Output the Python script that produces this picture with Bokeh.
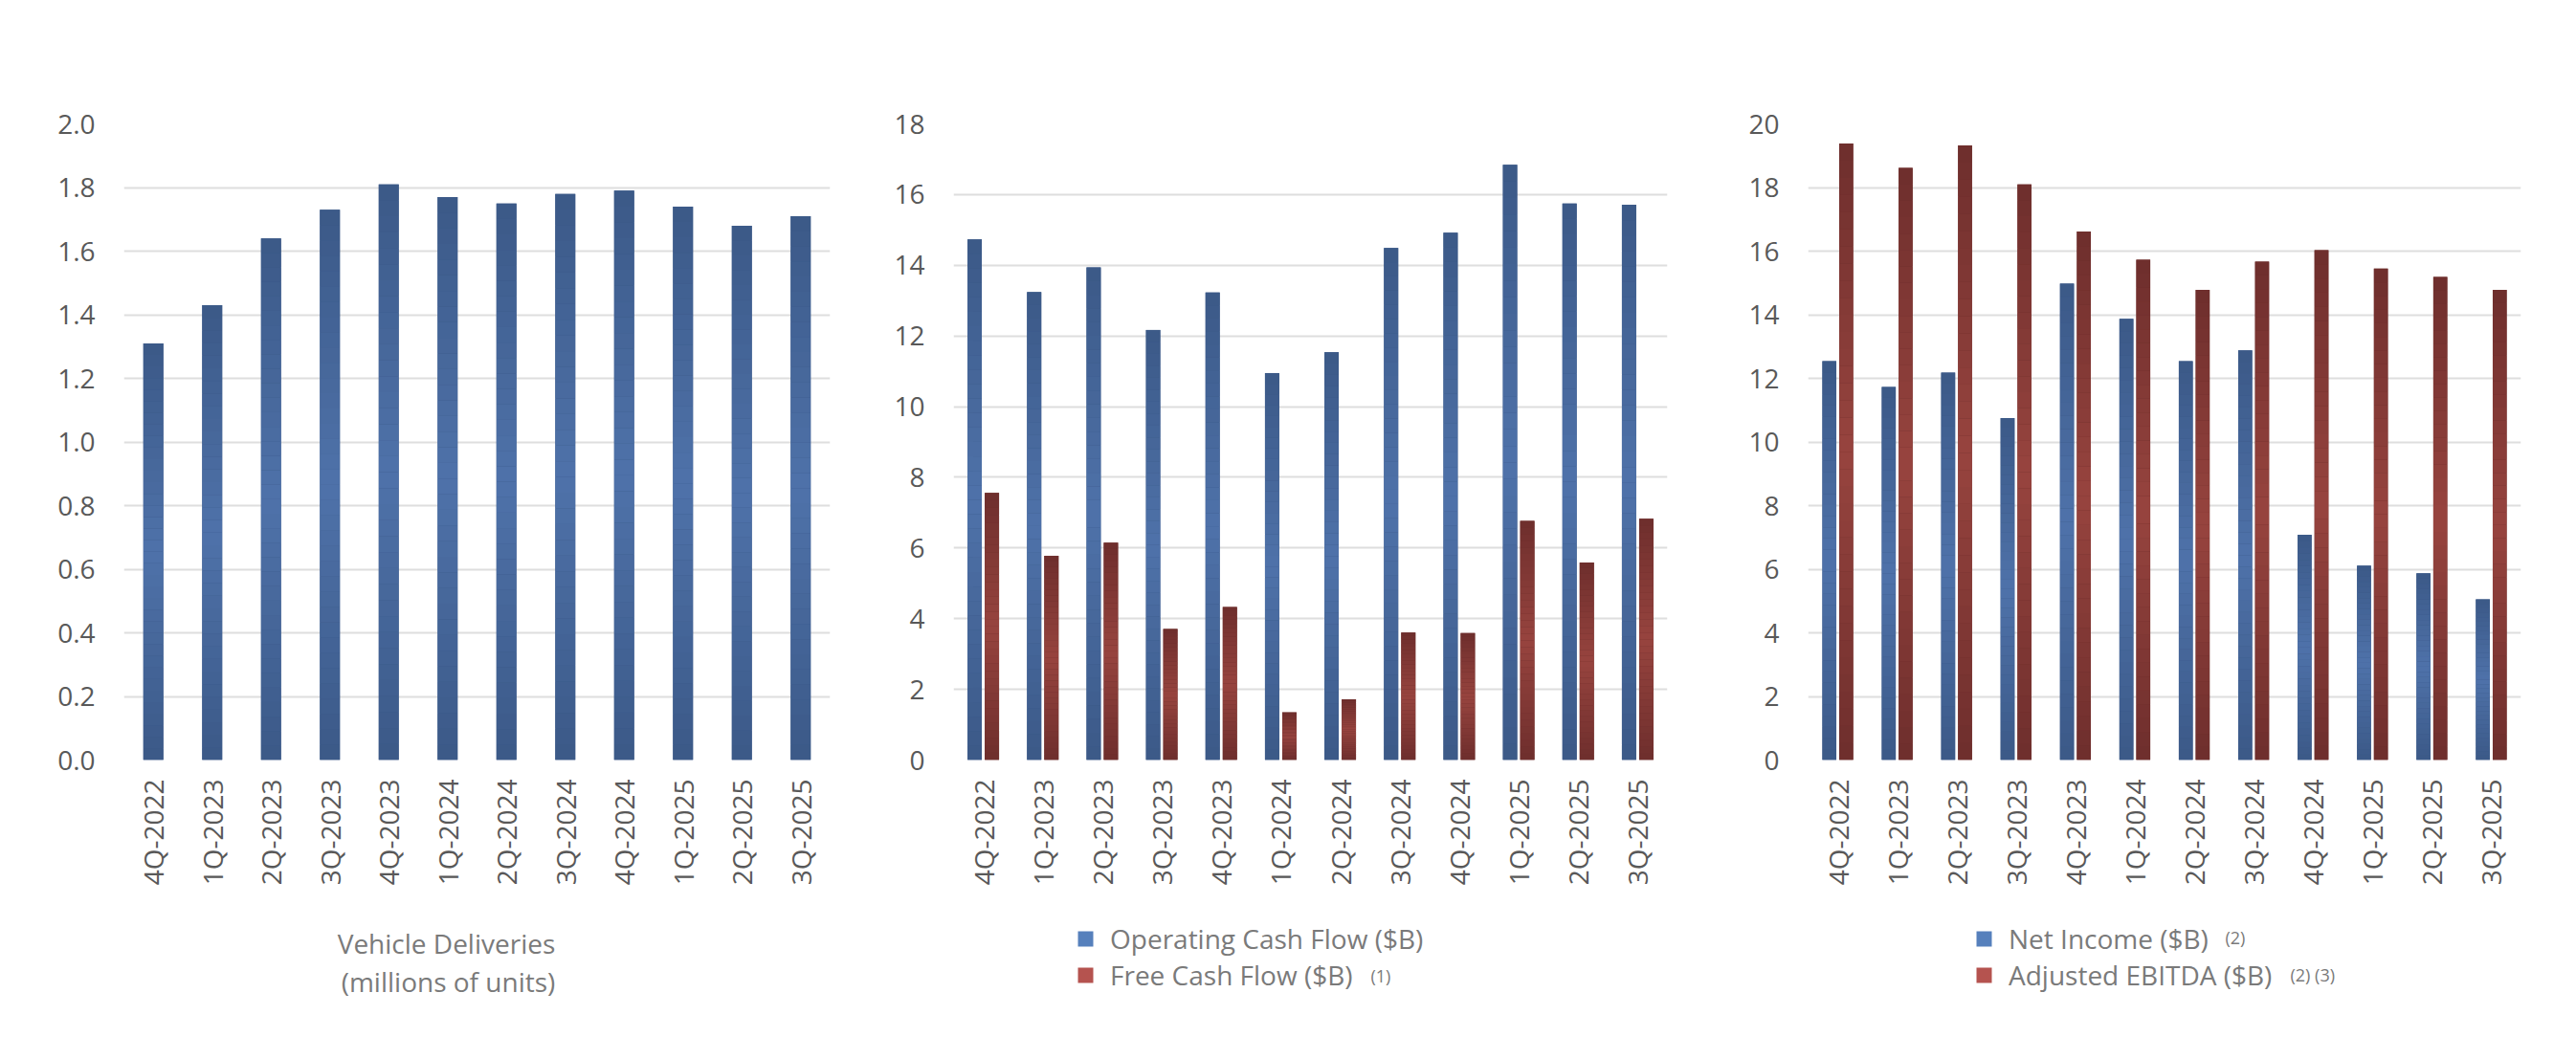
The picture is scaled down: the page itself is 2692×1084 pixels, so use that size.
import math
from bokeh.plotting import figure
from bokeh.models import (Range1d, FactorRange, FixedTicker, NumeralTickFormatter, Label,
                          Legend, LegendItem, ColumnDataSource)
from bokeh.transform import dodge
from bokeh.layouts import row, column
from bokeh.embed import file_html
from bokeh.resources import INLINE

# ---------------- data ----------------
quarters = ["4Q-2022", "1Q-2023", "2Q-2023", "3Q-2023", "4Q-2023", "1Q-2024",
            "2Q-2024", "3Q-2024", "4Q-2024", "1Q-2025", "2Q-2025", "3Q-2025"]

deliveries = [1.31, 1.43, 1.64, 1.73, 1.81, 1.77, 1.75, 1.78, 1.79, 1.74, 1.68, 1.71]

operating_cf = [14.73, 13.24, 13.94, 12.17, 13.23, 10.95, 11.54, 14.49, 14.92, 16.84, 15.75, 15.71]
free_cf = [7.56, 5.78, 6.15, 3.71, 4.33, 1.35, 1.72, 3.61, 3.59, 6.77, 5.59, 6.83]

net_income = [12.54, 11.73, 12.18, 10.75, 14.98, 13.87, 12.54, 12.88, 7.08, 6.11, 5.87, 5.05]
adj_ebitda = [19.38, 18.62, 19.32, 18.10, 16.62, 15.73, 14.78, 15.67, 16.03, 15.45, 15.19, 14.78]

ticks_deliveries = [0.0, 0.2, 0.4, 0.6, 0.8, 1.0, 1.2, 1.4, 1.6, 1.8, 2.0]
ticks_cash = [0, 2, 4, 6, 8, 10, 12, 14, 16, 18]
ticks_income = [0, 2, 4, 6, 8, 10, 12, 14, 16, 18, 20]

# ---------------- style ----------------
FONT = "Open Sans"
TICK_COLOR = "#595959"
TEXT_COLOR = "#7a7a7a"
GRID_COLOR = "#dedede"
BLUE_EDGE, BLUE_MID = "#3b5987", "#4f72aa"
RED_EDGE, RED_MID = "#6e2e2c", "#97443f"
BLUE_KEY, RED_KEY = "#5680bc", "#b5534f"
TOP_H, BOT_H = 940, 144


def _hex(c):
    c = c.lstrip("#")
    return [int(c[i:i + 2], 16) for i in (0, 2, 4)]


def blend(c1, c2, t):
    a, b = _hex(c1), _hex(c2)
    return "#" + "".join("%02x" % int(round(x + (y - x) * t)) for x, y in zip(a, b))


def gradient_bars(p, values, offset, width, edge, mid, n=36):
    base = ColumnDataSource(dict(x=quarters, top=values))
    p.vbar(x=dodge("x", offset, range=p.x_range), top="top", width=width, source=base,
           fill_color=edge, line_color=None)
    xs, bots, tops, cols = [], [], [], []
    for f, v in zip(quarters, values):
        for k in range(n):
            t = (k + 0.5) / n
            s = 1 - abs(2 * t - 1)
            xs.append(f)
            bots.append(v * k / n)
            tops.append(v * (k + 1) / n)
            cols.append(blend(edge, mid, s))
    src = ColumnDataSource(dict(x=xs, bottom=bots, top=tops, color=cols))
    p.vbar(x=dodge("x", offset, range=p.x_range), bottom="bottom", top="top", width=width,
           source=src, fill_color="color", line_color=None)


def make_fig(width, left, right, ymax, ticks, fmt):
    p = figure(width=width, height=TOP_H, x_range=FactorRange(factors=quarters),
               y_range=Range1d(0, ymax), output_backend="svg", toolbar_location=None,
               min_border_left=left, min_border_right=right, min_border_top=129,
               min_border_bottom=TOP_H - 129 - 665)
    p.outline_line_color = None
    p.background_fill_color = "white"
    p.border_fill_color = "white"
    p.xgrid.grid_line_color = None
    p.ygrid.grid_line_color = GRID_COLOR
    p.ygrid.grid_line_width = 2
    p.yaxis.ticker = FixedTicker(ticks=ticks)
    p.yaxis.formatter = NumeralTickFormatter(format=fmt)
    for ax in (p.xaxis, p.yaxis):
        ax.axis_line_color = None
        ax.major_tick_line_color = None
        ax.minor_tick_line_color = None
        ax.major_tick_out = 0
        ax.major_tick_in = 0
        ax.major_label_text_font = FONT
        ax.major_label_text_font_size = "28px"
        ax.major_label_text_color = TICK_COLOR
    p.yaxis.major_label_standoff = 30
    p.xaxis.major_label_standoff = 20
    p.xaxis.major_label_orientation = math.pi / 2
    return p


def make_foot(width):
    f = figure(width=width, height=BOT_H, x_range=Range1d(0, width), y_range=Range1d(0, BOT_H),
               x_axis_type=None, y_axis_type=None, output_backend="svg", toolbar_location=None,
               min_border=0)
    f.outline_line_color = None
    f.xgrid.grid_line_color = None
    f.ygrid.grid_line_color = None
    f.background_fill_color = "white"
    f.border_fill_color = "white"
    return f


def text(p, x, y, s, size="28px", align="left"):
    p.add_layout(Label(x=x, y=y, x_units="screen", y_units="screen", text=s,
                       text_font=FONT, text_font_size=size, text_color=TEXT_COLOR,
                       text_align=align, text_baseline="alphabetic"))


def legend(p, x, y, entries):
    items = []
    for label, color, values in entries:
        # legend-only renderer bound to the series (hidden in the footer panel)
        r = p.vbar(x=list(range(len(values))), top=values, width=0.5,
                   fill_color=color, line_color=None, visible=False)
        items.append(LegendItem(label=label, renderers=[r]))
    leg = Legend(items=items, location=(x, y), orientation="vertical",
                 glyph_width=20, glyph_height=20, label_standoff=16, spacing=0,
                 padding=0, margin=0, border_line_color=None, background_fill_alpha=0,
                 label_text_font=FONT, label_text_font_size="28px",
                 label_text_color=TEXT_COLOR, click_policy="none")
    p.add_layout(leg)


# ---------------- panel 1 : deliveries ----------------
p1 = make_fig(930, 129, 63, 2.0, ticks_deliveries, "0.0")
gradient_bars(p1, deliveries, 0, 0.34, BLUE_EDGE, BLUE_MID)
f1 = make_foot(930)
text(f1, 466, 99, "Vehicle Deliveries", align="center")
text(f1, 468, 59, "(millions of units)", align="center")

# ---------------- panel 2 : cash flow ----------------
p2 = make_fig(890, 66, 78, 18, ticks_cash, "0")
gradient_bars(p2, operating_cf, -0.145, 0.24, BLUE_EDGE, BLUE_MID)
gradient_bars(p2, free_cf, 0.145, 0.24, RED_EDGE, RED_MID)
f2 = make_foot(890)
legend(f2, 194, 46, [("Operating Cash Flow ($B)", BLUE_KEY, operating_cf),
                     ("Free Cash Flow ($B)", RED_KEY, free_cf)])
text(f2, 502, 65, "(1)", size="18px")

# ---------------- panel 3 : income ----------------
p3 = make_fig(872, 69, 58, 20, ticks_income, "0")
gradient_bars(p3, net_income, -0.142, 0.235, BLUE_EDGE, BLUE_MID)
gradient_bars(p3, adj_ebitda, 0.142, 0.235, RED_EDGE, RED_MID)
f3 = make_foot(872)
legend(f3, 243, 46, [("Net Income ($B)", BLUE_KEY, net_income),
                     ("Adjusted EBITDA ($B)", RED_KEY, adj_ebitda)])
text(f3, 505, 105, "(2)", size="18px")
text(f3, 573, 66, "(2) (3)", size="18px")

layout = column(row(p1, p2, p3, spacing=0), row(f1, f2, f3, spacing=0), spacing=0)
open("out.html", "w").write(file_html(layout, INLINE))
